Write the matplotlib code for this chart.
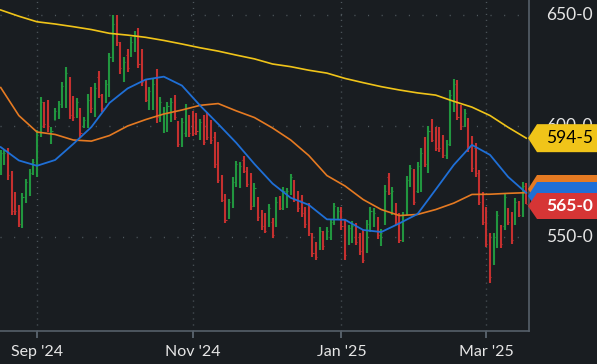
import matplotlib
matplotlib.use("Agg")
import matplotlib.pyplot as plt
from matplotlib.patches import Polygon
import numpy as np

plt.rcParams['font.family'] = ['Lato', 'DejaVu Sans']
plt.rcParams['lines.scale_dashes'] = False

# daily OHLC, one entry per trading day (mid Aug 2024 -> mid Mar 2025)
highs = [589.3, 589.3, 590.2, 579.8, 570.4, 564.5, 569.9, 576.2, 580.7, 585.2,
         598.3, 613.2, 610.9, 611.8, 599.7, 608.2, 611.4, 619.9, 626.7, 622.2,
         613.6, 612.7, 608.2, 604.1, 614.5, 617.6, 619.5, 624.9, 614.5, 620.8,
         633.0, 650.0, 650.0, 637.9, 631.1, 634.8, 640.2, 642.9, 644.2, 634.8,
         620.8, 617.6, 621.7, 625.7, 613.2, 608.6, 610.9, 612.7, 614.0, 602.4,
         603.7, 610.0, 605.0, 606.9, 606.0, 603.3, 605.0, 606.4, 602.8, 597.4,
         592.9, 578.0, 569.5, 567.2, 577.1, 584.4, 583.9, 586.6, 581.6, 578.9,
         574.4, 568.1, 562.3, 560.9, 565.0, 558.7, 568.1, 568.6, 572.7, 572.2,
         578.5, 575.8, 570.9, 569.0, 563.6, 565.4, 552.0, 547.9, 554.6, 552.9,
         554.6, 558.2, 565.4, 563.6, 563.6, 558.2, 555.5, 557.3, 556.4, 552.0,
         553.3, 557.8, 563.6, 563.2, 559.1, 553.7, 573.6, 578.9, 572.7, 565.4,
         561.0, 561.4, 577.6, 582.6, 580.7, 583.9, 590.2, 595.2, 600.1, 603.3,
         599.7, 599.7, 596.1, 593.8, 616.3, 621.3, 620.8, 609.5, 607.8, 603.7,
         595.6, 592.5, 580.3, 570.4, 563.6, 552.0, 552.0, 561.9, 555.5, 570.0,
         563.2, 561.4, 567.8, 566.4, 574.9, 574.4]
lows = [578.0, 582.5, 575.8, 560.0, 560.0, 554.6, 554.2, 565.4, 568.6, 578.0,
        577.1, 595.2, 599.2, 597.4, 592.0, 602.8, 603.3, 608.2, 608.2, 603.3,
        602.4, 603.7, 594.7, 599.2, 599.2, 606.0, 604.1, 612.7, 606.4, 610.4,
        613.2, 628.9, 636.1, 623.5, 619.9, 624.4, 631.1, 633.4, 626.2, 618.1,
        610.9, 607.3, 607.3, 601.5, 601.9, 597.0, 597.4, 601.9, 602.8, 590.7,
        590.7, 595.2, 595.2, 595.6, 596.1, 593.8, 591.6, 593.8, 592.0, 581.2,
        574.4, 565.9, 556.4, 558.2, 563.2, 572.7, 572.2, 578.9, 572.7, 562.3,
        563.6, 557.3, 553.3, 551.9, 554.6, 549.7, 554.6, 562.3, 562.3, 563.2,
        569.0, 565.9, 561.4, 559.1, 554.2, 550.6, 541.2, 539.8, 544.3, 544.3,
        548.8, 548.8, 555.5, 558.2, 553.3, 539.8, 546.6, 547.4, 546.6, 542.1,
        538.5, 543.0, 552.4, 554.6, 549.2, 546.1, 555.5, 569.0, 560.0, 555.5,
        547.4, 547.9, 560.0, 572.7, 564.6, 570.0, 570.4, 581.6, 579.0, 592.9,
        588.9, 588.4, 585.7, 585.2, 591.1, 606.4, 602.8, 598.3, 599.7, 588.4,
        579.4, 577.1, 564.5, 555.5, 545.7, 529.5, 537.6, 545.2, 545.2, 553.3,
        555.5, 547.0, 555.5, 559.1, 559.1, 565.0]
opens = [580, 584, 588, 577, 568, 563, 556, 567, 571, 579,
         580, 597, 609, 609, 593, 603, 604, 610, 610, 620,
         611, 605, 606, 600, 601, 615, 606, 622, 613, 612,
         615, 631, 647, 636, 622, 632, 632, 635, 641, 631,
         619, 609, 609, 622, 603, 599, 599, 603, 612, 600,
         592, 597, 603, 605, 604, 595, 603, 604, 601, 595,
         590, 576, 567, 559, 565, 574, 574, 585, 580, 576,
         565, 566, 561, 559, 556, 557, 556, 567, 564, 565,
         570, 574, 569, 567, 562, 563, 550, 546, 546, 551,
         550, 550, 557, 559, 562, 556, 548, 549, 555, 550,
         551, 545, 554, 556, 558, 547, 557, 577, 562, 564,
         559, 549, 562, 574, 579, 571, 572, 593, 581, 602,
         598, 598, 594, 587, 593, 608, 618, 608, 601, 602,
         593, 590, 578, 568, 561, 550, 539, 547, 554, 555,
         562, 559, 557, 565, 561, 573]
closes = [588, 588, 578, 562, 562, 556, 568, 575, 579, 584,
          596, 611, 601, 600, 598, 607, 610, 618, 624, 605,
          604, 611, 597, 603, 612, 608, 617, 614, 608, 619,
          631, 646, 638, 626, 629, 626, 638, 641, 628, 620,
          612, 616, 619, 604, 611, 606, 609, 611, 604, 592,
          602, 608, 597, 597, 598, 602, 593, 595, 594, 583,
          576, 567, 558, 566, 575, 583, 582, 580, 574, 564,
          572, 559, 555, 553, 563, 551, 566, 563, 571, 571,
          577, 567, 563, 561, 556, 552, 543, 541, 553, 546,
          553, 557, 564, 562, 555, 542, 554, 555, 548, 544,
          540, 556, 562, 561, 551, 552, 571, 570, 571, 557,
          549, 560, 576, 581, 566, 582, 588, 583, 598, 594,
          590, 590, 587, 592, 614, 619, 604, 600, 606, 590,
          581, 579, 566, 557, 547, 532, 550, 560, 547, 568,
          557, 549, 566, 560, 573, 565]

# moving averages read every 5 bars
ma_idx = list(range(0, 146, 5))
ma_fast = [590.6, 584.6, 582.2, 584.8, 592.0, 599.6, 610.5, 617.0, 621.0, 622.3,
           618.3, 609.3, 601.0, 592.5, 583.0, 574.2, 567.8, 564.6, 558.1, 557.9,
           553.3, 552.4, 556.3, 560.5, 571.5, 582.6, 591.6, 587.1, 577.2, 570.0]
ma_mid = [617.4, 604.8, 597.4, 596.3, 593.8, 593.3, 595.8, 600.1, 603.0, 605.5,
          607.3, 609.4, 610.2, 606.9, 603.9, 599.2, 593.8, 586.8, 577.8, 573.1,
          567.0, 562.5, 559.8, 560.3, 562.5, 565.4, 569.3, 569.4, 569.8, 570.1]
ma_slow = [652.3, 649.5, 647.0, 646.0, 644.8, 643.5, 641.8, 641.0, 640.0, 638.6,
           637.0, 635.3, 633.8, 632.0, 630.3, 628.0, 626.8, 625.2, 623.9, 621.5,
           619.6, 617.8, 616.3, 615.0, 614.0, 611.2, 608.6, 604.8, 599.5, 594.625]

month_idx = [10, 53, 94, 134]
month_labels = ["Sep '24", "Nov '24", "Jan '25", "Mar '25"]
price_ticks = [550, 600, 650]

BG = '#191d21'
GRID = '#4f585e'
SPINE = '#56606a'
TXT = '#e6e6e6'
UP, DOWN = '#21963f', '#c5302f'
C_FAST, C_MID, C_SLOW = '#1f6fd6', '#e57a22', '#f0c419'

W, H = 597, 364


def fmt8(v):
    whole = int(np.floor(v + 1e-9))
    return f"{whole}-{int(round((v - whole) * 8))}"


fig = plt.figure(figsize=(W / 100, H / 100), dpi=100, facecolor=BG)
ax = fig.add_axes([0, 33 / H, 529 / W, 331 / H])
ax.set_facecolor(BG)
ax.set_xlim(-0.2, 145.75)
ax.set_ylim(507.85, 656.8)

for p in price_ticks:
    ax.axhline(p, color=GRID, lw=1.0, ls=(0, (0.8, 9.0)), zorder=1)
for m in month_idx:
    ax.axvline(m, color=GRID, lw=1.0, ls=(0, (0.8, 3.5)), zorder=1)

idx = np.arange(len(highs))
o = np.array(opens, float)
c = np.array(closes, float)
cols = [UP if cc >= oo else DOWN for oo, cc in zip(o, c)]
ax.vlines(idx, lows, highs, colors=cols, lw=1.5, zorder=3)
ax.hlines(o, idx - 0.3, idx, colors=cols, lw=0.8, zorder=3)
ax.hlines(c, idx, idx + 0.3, colors=cols, lw=0.8, zorder=3)

ax.plot(ma_idx, ma_slow, color=C_SLOW, lw=1.2, zorder=4)
ax.plot(ma_idx, ma_mid, color=C_MID, lw=1.2, zorder=4)
ax.plot(ma_idx, ma_fast, color=C_FAST, lw=1.3, zorder=4)

for s in ['left', 'top']:
    ax.spines[s].set_visible(False)
for s in ['right', 'bottom']:
    ax.spines[s].set_color(SPINE)
    ax.spines[s].set_linewidth(1.2)
ax.set_yticks([])
ax.set_xticks(month_idx)
ax.set_xticklabels(month_labels)
ax.tick_params(axis='x', colors=SPINE, length=5, width=1.4, pad=5,
               labelcolor=TXT, labelsize=11.5)

# price scale on the right
for p in price_ticks:
    yf = ax.transData.transform((0, p))[1] / H
    fig.text(593 / W, yf, fmt8(p), color=TXT, fontsize=12.5,
             ha='right', va='center', zorder=5)


def tag(val, color, txt=None, tcolor='black', weight='normal', dy=0, z=6, half=14):
    y = ax.transData.transform((0, val))[1] + dy
    pts = [(528, y), (537, y + half), (W, y + half), (W, y - half), (537, y - half)]
    pts = [(px / W, py / H) for px, py in pts]
    fig.add_artist(Polygon(pts, closed=True, transform=fig.transFigure,
                           facecolor=color, edgecolor='none', zorder=z))
    if txt:
        fig.text(593 / W, y / H, txt, color=tcolor, fontsize=12.5, weight=weight,
                 ha='right', va='center', zorder=z + 0.5)


tag(ma_slow[-1], C_SLOW, fmt8(ma_slow[-1]), 'black')
tag(closes[-1], C_MID, dy=15, z=6)
tag(closes[-1], C_FAST, dy=8, z=7)
tag(closes[-1], '#d63535', fmt8(closes[-1]), 'white', 'bold', dy=-2, z=8, half=13)

fig.savefig('out.png', dpi=100, facecolor=BG)
